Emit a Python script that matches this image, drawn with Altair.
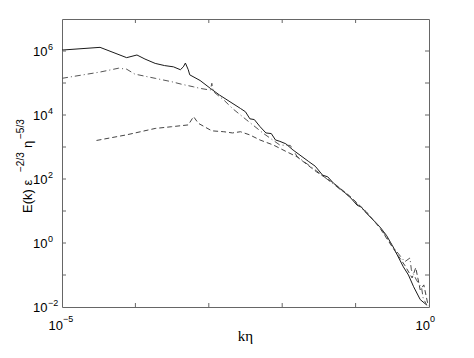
import altair as alt
import pandas as pd

# ---- data (log-log spectrum) ----
k_solid = [1.0e-5, 3.3e-5, 7.6e-5, 1.05e-4, 1.35e-4, 1.86e-4, 2.5e-4, 3.3e-4, 4.1e-4,
           4.5e-4, 4.8e-4, 5.25e-4, 5.5e-4, 7.6e-4, 1.05e-3, 1.4e-3, 2.7e-3, 3.16e-3,
           3.63e-3, 4.17e-3, 5.0e-3, 6.0e-3, 7.1e-3, 8.1e-3, 9.3e-3, 1.12e-2, 1.4e-2,
           2.3e-2, 2.82e-2, 3.55e-2, 4.17e-2, 5.0e-2, 8.3e-2, 0.105, 0.12, 0.141,
           0.214, 0.263, 0.324, 0.447, 0.525, 0.617, 0.76, 0.933]
e_solid = [1.07e6, 1.3e6, 6.2e5, 7.5e5, 5.6e5, 4.1e5, 3.5e5, 3.2e5, 2.6e5,
           3.2e5, 4.2e5, 2.6e5, 1.8e5, 1.2e5, 6.8e4, 4.2e4, 1.6e4, 1.26e4,
           7.6e3, 7.2e3, 4.3e3, 2.75e3, 2.63e3, 1.66e3, 1.5e3, 1.26e3, 8.1e2,
           3.5e2, 251, 132, 117, 74, 28, 15.1, 13.2, 8.5,
           3.2, 1.74, 0.76, 0.18, 0.1, 0.043, 0.017, 0.0115]

k_dashdot = [1.0e-5, 3.3e-5, 5.9e-5, 7.6e-5, 9.8e-5, 1.86e-4, 3.1e-4, 4.3e-4, 6.2e-4,
             7.6e-4, 1.05e-3, 1.1e-3, 1.15e-3, 1.6e-3, 2.1e-3, 3.3e-3, 5.5e-3, 9.3e-3,
             1.29e-2, 1.6e-2, 2.95e-2, 5.0e-2, 8.3e-2, 0.141, 0.214, 0.324, 0.468,
             0.55, 0.575, 0.676, 0.794, 0.832, 0.933]
e_dashdot = [1.4e5, 2.2e5, 2.9e5, 2.7e5, 1.9e5, 1.4e5, 1.1e5, 9.1e4, 7.6e4,
             6.8e4, 6.0e4, 9.8e4, 5.4e4, 2.95e4, 1.6e4, 6.9e3, 2.7e3, 1.15e3,
             1.12e3, 5.0e2, 178, 69, 27.5, 8.7, 3.2, 0.75, 0.26,
             0.34, 0.145, 0.069, 0.039, 0.019, 0.0115]

k_dashed = [2.95e-5, 7.6e-5, 1.86e-4, 3.1e-4, 5.25e-4, 6.2e-4, 7.2e-4, 1.1e-3, 1.6e-3,
            2.1e-3, 2.7e-3, 3.6e-3, 5.0e-3, 7.6e-3, 1.15e-2, 1.6e-2, 2.95e-2, 5.0e-2,
            8.3e-2, 0.141, 0.214, 0.324, 0.468, 0.589, 0.66, 0.759, 0.85, 0.977]
e_dashed = [1.6e3, 2.4e3, 3.8e3, 4.3e3, 4.9e3, 8.9e3, 5.5e3, 3.2e3, 3.0e3,
            2.75e3, 3.0e3, 2.4e3, 1.65e3, 1.15e3, 7.1e2, 4.9e2, 166, 75,
            29.5, 9.3, 2.95, 0.69, 0.20, 0.081, 0.17, 0.034, 0.049, 0.0107]

x_ticks = [1e-4, 1e-3, 1e-2, 1e-1]
y_ticks = [1e-1, 1e0, 1e1, 1e2, 1e3, 1e4, 1e5, 1e6]
x_label_vals = [1e-5, 1e0]
x_label_exp = ["\u22125", "0"]
y_label_vals = [1e-2, 1e0, 1e2, 1e4, 1e6]
y_label_exp = ["\u22122", "0", "2", "4", "6"]

W, H = 367, 288
FONT = "Liberation Sans"

xs = alt.Scale(type="log", domain=[1e-5, 1.0], nice=False)
ys = alt.Scale(type="log", domain=[1e-2, 1e7], nice=False)


def line(k, e, color, dash):
    df = pd.DataFrame({"k": k, "E": e})
    kw = {"strokeDash": dash} if dash else {}
    return alt.Chart(df).mark_line(color=color, strokeWidth=1, **kw).encode(
        x=alt.X("k:Q", scale=xs, axis=None),
        y=alt.Y("E:Q", scale=ys, axis=None),
    )


solid = line(k_solid, e_solid, "#1a1a1a", None)
dashdot = line(k_dashdot, e_dashdot, "#555555", [6, 3, 1, 3])
dashed = line(k_dashed, e_dashed, "#444444", [5, 3])

xt = pd.DataFrame({"k": x_ticks})
yt = pd.DataFrame({"E": y_ticks})
tick_color = "#666666"
xtick_bot = alt.Chart(xt).mark_rule(color=tick_color).encode(
    x=alt.X("k:Q", scale=xs, axis=None), y=alt.value(H - 4), y2=alt.value(H))
xtick_top = alt.Chart(xt).mark_rule(color=tick_color).encode(
    x=alt.X("k:Q", scale=xs, axis=None), y=alt.value(0), y2=alt.value(4))
ytick_l = alt.Chart(yt).mark_rule(color=tick_color).encode(
    y=alt.Y("E:Q", scale=ys, axis=None), x=alt.value(0), x2=alt.value(4))
ytick_r = alt.Chart(yt).mark_rule(color=tick_color).encode(
    y=alt.Y("E:Q", scale=ys, axis=None), x=alt.value(W - 4), x2=alt.value(W))

yl = pd.DataFrame({"E": y_label_vals, "base": ["10"] * 5, "exp": y_label_exp})
ylab = alt.Chart(yl).mark_text(font=FONT, fontSize=13, align="left", baseline="alphabetic",
                               dy=5, color="#000").encode(
    y=alt.Y("E:Q", scale=ys, axis=None), x=alt.value(-29), text="base:N")
ysup = alt.Chart(yl).mark_text(font=FONT, fontSize=9, align="left", baseline="alphabetic",
                               dy=-1, color="#000").encode(
    y=alt.Y("E:Q", scale=ys, axis=None), x=alt.value(-14), text="exp:N")

xl = pd.DataFrame({"k": x_label_vals, "base": ["10"] * 2, "exp": x_label_exp})
xlab = alt.Chart(xl).mark_text(font=FONT, fontSize=13, align="right", baseline="alphabetic",
                               dx=1, color="#000").encode(
    x=alt.X("k:Q", scale=xs, axis=None), y=alt.value(H + 23), text="base:N")
xsup = alt.Chart(xl).mark_text(font=FONT, fontSize=9, align="left", baseline="alphabetic",
                               dx=1, color="#000").encode(
    x=alt.X("k:Q", scale=xs, axis=None), y=alt.value(H + 15), text="exp:N")

xtitle = alt.Chart(pd.DataFrame({"t": ["k\u03b7"]})).mark_text(
    font="Liberation Serif", fontSize=15, align="center", baseline="alphabetic", color="#000"
).encode(x=alt.value(W / 2), y=alt.value(H + 34), text="t:N")

# y title pieces: E(k) ε^{-2/3} η^{-5/3}, rotated
ytitle_parts = pd.DataFrame({
    "t": ["E(k) \u03b5", "\u22122/3", "\u03b7", "\u22125/3"],
    "px": [32 - 62, 23.5 - 62, 32 - 62, 23.5 - 62],
    "py": [213 - 19, 172 - 19, 148 - 19, 139 - 19],
    "fs": [13, 10, 13, 10],
})
ytitle = alt.Chart(ytitle_parts).mark_text(
    font=FONT, angle=270, align="left", baseline="alphabetic", color="#000"
).encode(
    x=alt.X("px:Q", scale=None, axis=None),
    y=alt.Y("py:Q", scale=None, axis=None),
    text="t:N",
    size=alt.Size("fs:Q", scale=None, legend=None),
)

chart = alt.layer(
    solid, dashdot, dashed,
    xtick_bot, xtick_top, ytick_l, ytick_r,
    ylab, ysup, xlab, xsup, xtitle, ytitle,
).resolve_scale(x="shared", y="shared").properties(
    width=W, height=H,
    autosize=alt.AutoSizeParams(type="none"),
    padding={"left": 62, "top": 19, "right": 45, "bottom": 51},
    background="white",
).configure_view(stroke="#666666", strokeWidth=1)

chart.save("out.html", embed_options={"renderer": "svg", "actions": False})
